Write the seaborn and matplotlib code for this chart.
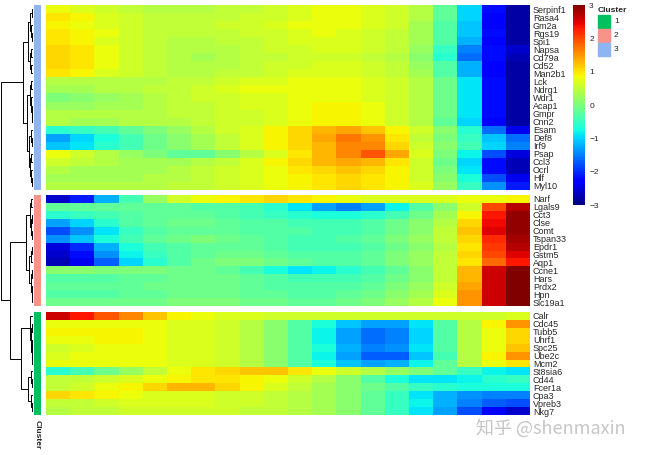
import numpy as np
import pandas as pd
import seaborn as sns
import matplotlib.pyplot as plt
from matplotlib.colors import ListedColormap
from matplotlib.patches import Rectangle

sns.set_theme(style="white")
plt.rcParams['font.family'] = ['Liberation Sans', 'DejaVu Sans']

#%% data: scaled expression along pseudotime (20 bins)
genes3 = ["Serpinf1", "Rasa4", "Gm2a", "Rgs19", "Spi1", "Napsa", "Cd79a", "Cd52", "Man2b1", "Lck",
          "Ndrg1", "Wdr1", "Acap1", "Gmpr", "Cnn2", "Esam", "Def8", "Irf9", "Psap", "Ccl3",
          "Ocrl", "Hlf", "Myl10"]
expr3 = [
    [0.8,0.7,0.6,0.5,0.4,0.4,0.4,0.5,0.5,0.6,0.7,0.8,0.8,0.7,0.6,0.4,-0.2,-1.0,-2.2,-2.8],
    [1.0,0.9,0.7,0.6,0.5,0.5,0.5,0.5,0.6,0.6,0.7,0.8,0.8,0.7,0.6,0.4,-0.2,-1.0,-2.3,-2.8],
    [0.9,0.8,0.7,0.6,0.5,0.5,0.5,0.6,0.6,0.7,0.8,0.8,0.8,0.7,0.6,0.3,-0.3,-1.1,-2.3,-2.8],
    [1.0,0.9,0.8,0.6,0.5,0.5,0.5,0.5,0.6,0.6,0.7,0.8,0.7,0.6,0.5,0.3,-0.3,-1.1,-2.2,-2.8],
    [1.0,0.9,0.7,0.6,0.5,0.4,0.4,0.5,0.5,0.6,0.7,0.7,0.7,0.6,0.5,0.3,-0.3,-1.2,-2.3,-2.8],
    [1.1,1.0,0.8,0.6,0.5,0.4,0.4,0.4,0.5,0.6,0.6,0.7,0.7,0.6,0.5,0.2,-0.5,-1.5,-2.2,-2.6],
    [1.1,1.0,0.8,0.6,0.5,0.4,0.3,0.4,0.5,0.5,0.6,0.6,0.6,0.5,0.4,0.1,-0.6,-1.6,-2.2,-2.7],
    [1.1,1.0,0.8,0.6,0.5,0.4,0.4,0.4,0.5,0.6,0.6,0.7,0.7,0.6,0.5,0.2,-0.3,-1.2,-2.3,-2.8],
    [1.0,0.9,0.7,0.6,0.5,0.4,0.4,0.5,0.5,0.6,0.7,0.7,0.7,0.6,0.5,0.3,-0.3,-1.2,-2.3,-2.8],
    [0.4,0.4,0.4,0.4,0.4,0.5,0.5,0.6,0.7,0.7,0.8,0.8,0.8,0.7,0.6,0.4,-0.1,-0.9,-2.2,-2.8],
    [0.3,0.3,0.4,0.4,0.5,0.5,0.6,0.7,0.8,0.8,0.8,0.8,0.8,0.7,0.6,0.4,-0.1,-0.9,-2.2,-2.8],
    [0.0,0.1,0.2,0.3,0.4,0.5,0.6,0.6,0.7,0.7,0.8,0.8,0.8,0.7,0.6,0.4,-0.1,-0.9,-2.2,-2.8],
    [0.2,0.2,0.3,0.3,0.4,0.5,0.5,0.6,0.7,0.7,0.8,0.9,0.9,0.8,0.6,0.4,-0.1,-0.9,-2.2,-2.8],
    [0.4,0.4,0.4,0.4,0.4,0.5,0.5,0.6,0.6,0.7,0.8,0.9,0.9,0.8,0.6,0.4,-0.1,-0.9,-2.2,-2.8],
    [0.4,0.3,0.3,0.4,0.4,0.4,0.5,0.6,0.6,0.7,0.8,0.9,0.9,0.8,0.6,0.4,-0.2,-1.0,-2.3,-2.8],
    [-0.6,-0.5,-0.4,-0.2,0.0,0.2,0.4,0.6,0.7,0.9,1.1,1.3,1.4,1.2,0.9,0.6,0.1,-0.6,-1.6,-2.4],
    [-1.3,-1.0,-0.7,-0.4,-0.1,0.1,0.3,0.5,0.7,0.9,1.1,1.4,1.7,1.5,1.0,0.5,0.0,-0.5,-1.1,-1.6],
    [-1.1,-0.9,-0.6,-0.4,-0.1,0.1,0.3,0.5,0.7,0.9,1.1,1.3,1.6,1.6,1.1,0.6,0.1,-0.4,-1.0,-1.5],
    [0.8,0.6,0.4,0.2,0.0,-0.2,-0.2,0.1,0.4,0.7,1.0,1.3,1.6,1.9,1.4,0.7,0.0,-0.8,-1.8,-2.5],
    [0.6,0.5,0.4,0.3,0.3,0.3,0.4,0.5,0.7,0.9,1.1,1.3,1.4,1.3,1.0,0.6,-0.1,-1.0,-2.2,-2.7],
    [0.4,0.3,0.3,0.3,0.3,0.4,0.5,0.6,0.7,0.8,1.0,1.1,1.2,1.1,0.9,0.6,0.0,-0.9,-2.2,-2.7],
    [0.3,0.3,0.3,0.3,0.4,0.4,0.5,0.6,0.7,0.8,0.9,1.0,1.1,1.0,0.9,0.6,0.1,-0.7,-1.8,-2.4],
    [0.4,0.4,0.4,0.4,0.4,0.5,0.5,0.6,0.7,0.8,0.9,1.0,1.1,1.0,0.9,0.7,0.2,-0.5,-1.4,-2.1],
]
genes2 = ["Narf", "Lgals9", "Cct3", "Clse", "Comt", "Tspan33", "Epdr1", "Gstm5", "Aqp1", "Ccne1",
          "Hars", "Prdx2", "Hpn", "Slc19a1"]
expr2 = [
    [-2.6,-2.1,-1.2,-0.4,0.2,0.6,0.8,0.9,1.0,1.1,1.0,0.9,0.8,0.7,0.7,0.7,0.7,0.8,0.8,0.9],
    [-0.2,-0.2,-0.2,-0.2,-0.2,-0.2,-0.3,-0.3,-0.4,-0.6,-0.9,-1.3,-1.5,-1.3,-0.8,-0.3,0.1,0.6,2.0,2.7],
    [-0.6,-0.5,-0.4,-0.3,-0.2,-0.2,-0.2,-0.3,-0.4,-0.5,-0.6,-0.7,-0.7,-0.6,-0.4,-0.1,0.3,0.9,2.3,2.9],
    [-1.3,-1.0,-0.6,-0.3,-0.2,-0.1,-0.1,-0.2,-0.3,-0.3,-0.4,-0.4,-0.4,-0.3,-0.1,0.1,0.4,1.1,2.4,2.9],
    [-1.8,-1.4,-0.9,-0.5,-0.3,-0.2,-0.2,-0.2,-0.3,-0.3,-0.3,-0.4,-0.4,-0.3,-0.1,0.1,0.5,1.2,2.5,2.9],
    [-1.4,-1.1,-0.7,-0.4,-0.2,-0.1,0.0,-0.1,-0.2,-0.3,-0.4,-0.4,-0.3,-0.2,0.0,0.2,0.5,1.1,2.2,2.8],
    [-2.5,-2.0,-1.2,-0.7,-0.4,-0.3,-0.2,-0.2,-0.2,-0.3,-0.4,-0.4,-0.4,-0.3,-0.1,0.1,0.4,1.0,2.1,2.7],
    [-2.6,-2.2,-1.4,-0.8,-0.5,-0.3,-0.2,-0.1,-0.1,-0.2,-0.3,-0.3,-0.3,-0.2,0.0,0.2,0.5,1.1,2.0,2.5],
    [-2.7,-2.4,-1.7,-1.0,-0.6,-0.3,-0.1,0.0,0.0,-0.1,-0.2,-0.3,-0.3,-0.2,0.0,0.2,0.5,1.0,1.8,2.3],
    [0.1,0.1,0.0,0.0,0.0,-0.1,-0.1,-0.2,-0.4,-0.7,-0.9,-0.8,-0.6,-0.4,-0.2,0.1,0.5,1.3,2.6,3.0],
    [-0.3,-0.3,-0.3,-0.2,-0.2,-0.1,-0.1,-0.1,-0.2,-0.3,-0.4,-0.4,-0.4,-0.3,-0.1,0.1,0.5,1.3,2.6,3.0],
    [-0.2,-0.2,-0.2,-0.2,-0.1,-0.1,-0.1,-0.1,-0.2,-0.3,-0.3,-0.3,-0.3,-0.2,0.0,0.2,0.6,1.4,2.6,3.0],
    [-0.3,-0.3,-0.3,-0.2,-0.2,-0.1,-0.1,-0.1,-0.2,-0.2,-0.3,-0.3,-0.2,-0.1,0.1,0.3,0.7,1.5,2.6,3.0],
    [-0.1,-0.1,-0.1,-0.1,-0.1,0.0,0.0,0.0,-0.1,-0.1,-0.2,-0.2,-0.1,0.0,0.2,0.4,0.8,1.5,2.6,3.0],
]
genes1 = ["Calr", "Cdc45", "Tubb5", "Uhrf1", "Spc25", "Ube2c", "Mcm2", "St8sia6", "Cd44", "Fcer1a",
          "Cpa3", "Vpreb3", "Nkg7"]
expr1 = [
    [2.6,2.3,1.9,1.6,1.2,0.9,0.8,0.7,0.7,0.6,0.6,0.6,0.6,0.6,0.6,0.6,0.6,0.6,0.6,0.7],
    [0.8,0.8,0.8,0.8,0.8,0.7,0.7,0.6,0.4,0.1,-0.3,-0.7,-1.1,-1.3,-1.3,-0.9,-0.3,0.4,0.9,1.5],
    [0.9,0.9,0.9,0.9,0.8,0.7,0.7,0.6,0.4,0.1,-0.3,-0.8,-1.3,-1.6,-1.5,-1.0,-0.3,0.4,0.8,1.1],
    [0.8,0.8,0.9,0.9,0.8,0.7,0.7,0.6,0.4,0.1,-0.3,-0.8,-1.3,-1.6,-1.5,-1.0,-0.3,0.4,0.8,1.1],
    [0.6,0.7,0.8,0.8,0.8,0.7,0.7,0.6,0.4,0.1,-0.3,-0.7,-1.2,-1.5,-1.4,-0.9,-0.3,0.4,0.8,1.2],
    [0.7,0.8,0.8,0.8,0.8,0.7,0.7,0.6,0.4,0.1,-0.3,-0.8,-1.3,-1.7,-1.7,-1.1,-0.4,0.4,0.9,1.5],
    [0.8,0.8,0.8,0.8,0.8,0.7,0.7,0.6,0.4,0.1,-0.3,-0.7,-1.1,-1.3,-1.2,-0.8,-0.2,0.4,0.8,1.0],
    [-0.6,-0.4,-0.1,0.2,0.5,0.8,1.0,1.1,1.2,1.2,1.0,0.8,0.6,0.4,0.2,0.0,-0.2,-0.5,-0.8,-0.9],
    [0.5,0.5,0.6,0.7,0.8,0.9,1.0,1.0,0.9,0.8,0.6,0.4,0.1,-0.3,-0.7,-0.9,-0.9,-0.8,-0.6,-0.5],
    [0.5,0.6,0.8,0.9,1.1,1.3,1.3,1.1,0.9,0.7,0.5,0.3,0.1,-0.1,-0.3,-0.5,-0.6,-0.7,-0.7,-0.7],
    [1.1,1.0,0.9,0.8,0.7,0.7,0.7,0.6,0.6,0.5,0.4,0.3,0.1,-0.2,-0.5,-0.9,-1.2,-1.4,-1.5,-1.5],
    [0.5,0.5,0.6,0.7,0.7,0.7,0.7,0.6,0.6,0.5,0.4,0.3,0.1,-0.2,-0.5,-0.8,-1.2,-1.5,-1.7,-1.8],
    [0.4,0.5,0.5,0.6,0.6,0.6,0.6,0.6,0.5,0.5,0.4,0.3,0.1,-0.2,-0.5,-0.9,-1.3,-1.8,-2.3,-2.6],
]
clusters = [3, 2, 1]
cluster_colors = {1: "#00C060", 2: "#F8938A", 3: "#8DB5F2"}

# row dendrogram (height, left, right); leaves are row indices within each cluster
tree3 = (3.0, (1.5, (0.8, (0.4, 0, 1), (0.5, 2, (0.3, 3, 4))), (0.9, (0.5, 5, 6), (0.6, 7, 8))),
         (2.0, (1.0, (0.5, 9, 10), (0.7, 11, (0.4, 12, (0.3, 13, 14)))),
          (1.2, (0.6, 15, (0.4, 16, 17)), (0.8, (0.5, 18, 19), (0.6, 20, (0.3, 21, 22))))))
tree2 = (2.3, (1.0, (0.5, 0, 1), (0.6, (0.3, 2, 3), (0.4, 4, 5))),
         (1.2, (0.5, (0.3, 6, 7), 8), (0.7, (0.4, 9, 10), (0.4, 11, (0.2, 12, 13)))))
tree1 = (3.6, (1.0, 0, (0.6, (0.3, 1, 2), (0.4, (0.2, 3, 4), (0.3, 5, 6)))),
         (1.4, (0.6, 7, (0.3, 8, 9)), (0.7, 10, (0.4, 11, 12))))
root_h, join_h = 10.0, 7.0

#%% layout
W, H = 645, 455
fig = plt.figure(figsize=(W / 100, H / 100), dpi=100)
blocks = [(genes3, expr3, 5, 190), (genes2, expr2, 195, 306), (genes1, expr1, 312, 415)]
hx0, hx1 = 46, 530
cax = fig.add_axes([573 / W, 1 - 205 / H, 12 / W, 200 / H])

leaf_y = {}
for b, (genes, expr, y0, y1) in enumerate(blocks):
    rect = [hx0 / W, 1 - y1 / H, (hx1 - hx0) / W, (y1 - y0) / H]
    ax = fig.add_axes(rect)
    df = pd.DataFrame(expr, index=genes)
    sns.heatmap(df, ax=ax, cmap="jet", vmin=-3, vmax=3, xticklabels=False, yticklabels=True,
                cbar=(b == 0), cbar_ax=cax if b == 0 else None)
    ax.yaxis.tick_right()
    ax.tick_params(axis="y", length=0, pad=2, labelsize=6.5, rotation=0)
    # annotation bar
    aax = fig.add_axes([34 / W, 1 - y1 / H, 7 / W, (y1 - y0) / H])
    c = clusters[b]
    sns.heatmap(pd.DataFrame([[c]] * len(genes)), ax=aax, cmap=ListedColormap([cluster_colors[c]]),
                cbar=False, xticklabels=False, yticklabels=False)
    rh = (y1 - y0) / len(genes)
    for i in range(len(genes)):
        leaf_y[(b, i)] = y0 + rh * (i + 0.5)

# colorbar styling
cax.tick_params(length=0, labelsize=6, pad=3)
cax.set_yticks([-3, -2, -1, 0, 1, 2, 3])
for s in cax.spines.values():
    s.set_visible(False)

# dendrogram
dax = fig.add_axes([0, 1 - 415 / H, 33 / W, 410 / H])
dax.set_xlim(root_h * 1.02, 0)
dax.set_ylim(415, 5)
dax.axis("off")

def draw(node, b):
    if isinstance(node, int):
        return leaf_y[(b, node)], 0.0
    h, l, r = node
    yl, hl = draw(l, b)
    yr, hr = draw(r, b)
    dax.plot([hl, h, h, hr], [yl, yl, yr, yr], color="black", lw=0.7)
    return (yl + yr) / 2, h

def join(a, b_, h):
    (ya, ha), (yb, hb) = a, b_
    dax.plot([ha, h, h, hb], [ya, ya, yb, yb], color="black", lw=0.7)
    return (ya + yb) / 2, h

n3 = draw(tree3, 0)
n21 = join(draw(tree2, 1), draw(tree1, 2), join_h)
join(n3, n21, root_h)

# cluster legend
lax = fig.add_axes([0, 0, 1, 1], facecolor="none")
lax.set_xlim(0, W)
lax.set_ylim(H, 0)
lax.axis("off")
lax.text(598, 10, "Cluster", fontsize=6, fontweight="bold", va="center")
for k, c in enumerate([1, 2, 3]):
    lax.add_patch(Rectangle((598, 15 + 14 * k), 12, 13, color=cluster_colors[c]))
    lax.text(614, 21.5 + 14 * k, str(c), fontsize=6, va="center")
lax.text(37.5, 420, "Cluster", fontsize=6, fontweight="bold", rotation=-90, ha="center", va="top")
lax.text(625, 428, "知乎 @shenmaxin", fontsize=13, color="#B8B8B8", alpha=0.8, ha="right", va="center",
         family=["Noto Sans CJK SC", "DejaVu Sans"])

fig.savefig("out.png", dpi=100)
